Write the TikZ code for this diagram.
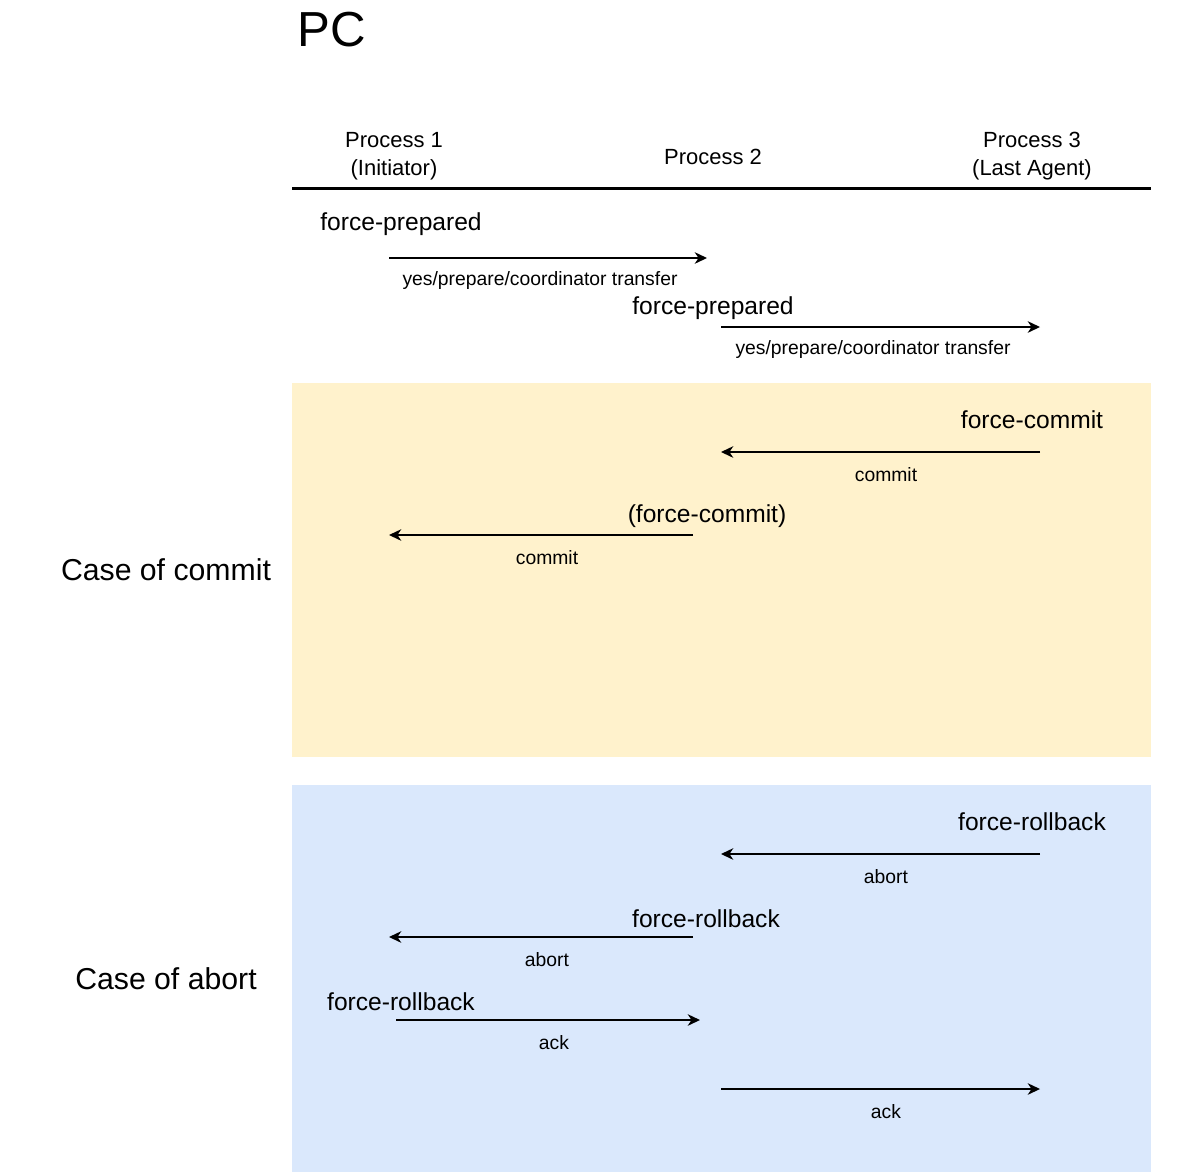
\documentclass[tikz,border=0pt]{standalone}
\usepackage{fontspec}
\setmainfont{Liberation Sans}
\usetikzlibrary{arrows.meta}
\begin{document}
\begin{tikzpicture}[x=0.02cm,y=-0.02cm,
  msg/.style={line width=0.9pt,-{Stealth[length=7pt,width=6.6pt,inset=2.2pt]}},
  big/.style={font=\fontsize{14}{16}\selectfont, inner sep=0pt, yshift=-1.4pt},
  small/.style={font=\fontsize{11}{13}\selectfont, inner sep=0pt, yshift=-0.8pt},
  head/.style={font=\fontsize{12.5}{16}\selectfont, inner sep=0pt, align=center, yshift=-1.4pt},
  case/.style={font=\fontsize{17.2}{20}\selectfont, inner sep=0pt, yshift=-0.8pt}]
\useasboundingbox (0,0) rectangle (1200,1174);
% backgrounds
\fill[fill={rgb,255:red,255;green,242;blue,204}] (292,383) rectangle (1151,757);
\fill[fill={rgb,255:red,218;green,232;blue,252}] (292,785) rectangle (1151,1172);
% title
\node[font=\fontsize{28}{32}\selectfont, inner sep=0pt] (title) at (332,30) {PC};
% headers
\node[head] (p1) at (394,154) {Process 1\\(Initiator)};
\node[head] (p2) at (713,154) {Process 2};
\node[head] (p3) at (1032,154) {Process 3\\(Last Agent)};
\coordinate (hl) at (292,188);
\coordinate (hr) at (1151,188);
\draw[line width=1.7pt] (hl) -- (hr);
% prepare phase
\node[big] (fp1) at (401,222) {force-prepared};
\coordinate (a1s) at (389,258); \coordinate (a1e) at (707,258);
\draw[msg] (a1s) -- (a1e);
\node[small] (l1) at (540,279) {yes/prepare/coordinator transfer};
\node[big] (fp2) at (713,306) {force-prepared};
\coordinate (a2s) at (721,327); \coordinate (a2e) at (1040,327);
\draw[msg] (a2s) -- (a2e);
\node[small] (l2) at (873,348) {yes/prepare/coordinator transfer};
% commit
\node[case] (cc) at (166,568) {Case of commit};
\node[big] (fc1) at (1032,417) {force-commit};
\coordinate (c1s) at (1040,452); \coordinate (c1e) at (721,452);
\draw[msg] (c1s) -- (c1e);
\node[small] (lc1) at (886,473) {commit};
\node[big] (fc2) at (707,514) {(force-commit)};
\coordinate (c2s) at (693,535); \coordinate (c2e) at (389,535);
\draw[msg] (c2s) -- (c2e);
\node[small] (lc2) at (547,556) {commit};
% abort
\node[case] (ca) at (166,977) {Case of abort};
\node[big] (fr1) at (1032,819) {force-rollback};
\coordinate (b1s) at (1040,854); \coordinate (b1e) at (721,854);
\draw[msg] (b1s) -- (b1e);
\node[small] (lb1) at (886,875) {abort};
\node[big] (fr2) at (706,916) {force-rollback};
\coordinate (b2s) at (693,937); \coordinate (b2e) at (389,937);
\draw[msg] (b2s) -- (b2e);
\node[small] (lb2) at (547,958) {abort};
\node[big] (fr3) at (401,999) {force-rollback};
\coordinate (b3s) at (396,1020); \coordinate (b3e) at (700,1020);
\draw[msg] (b3s) -- (b3e);
\node[small] (lb3) at (554,1041) {ack};
\coordinate (b4s) at (721,1089); \coordinate (b4e) at (1040,1089);
\draw[msg] (b4s) -- (b4e);
\node[small] (lb4) at (886,1110) {ack};
\end{tikzpicture}
\end{document}
